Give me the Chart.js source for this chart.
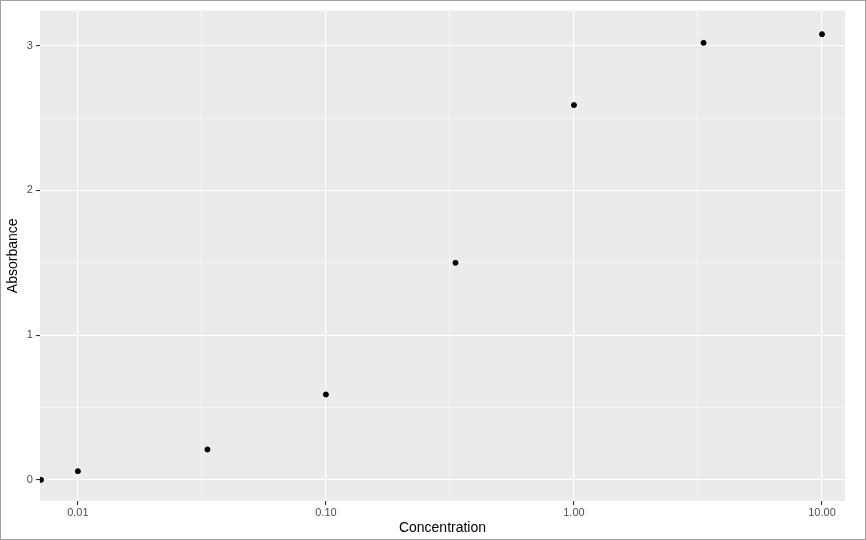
<!DOCTYPE html>
<html>
<head>
<meta charset="utf-8">
<script src="https://cdn.jsdelivr.net/npm/chart.js@4"></script>
<style>
  body { margin: 0; background: #fff; }
  #wrap { width: 864px; height: 538px; border: 1px solid #a0a0a0; }
</style>
</head>
<body>
<div id="wrap"><canvas id="c"></canvas></div>
<script>
// concentration series and absorbance
const concentration = [0.0071, 0.01, 0.0333, 0.1, 0.333, 1.0, 3.33, 10.0]
const absorbance = [0.0, 0.06, 0.21, 0.59, 1.5, 2.59, 3.02, 3.08]

const xTicks = [0.01, 0.0316, 0.1, 0.316, 1, 3.16, 10]
const xLabels = {0.01: '0.01', 0.1: '0.10', 1: '1.00', 10: '10.00'}
const yTicks = [0, 0.5, 1, 1.5, 2, 2.5, 3]

const panelBg = {
  id: 'panelBg',
  beforeDraw(chart) {
    const a = chart.chartArea, ctx = chart.ctx
    ctx.save()
    ctx.fillStyle = '#EBEBEB'
    ctx.fillRect(a.left, a.top, a.right - a.left, a.bottom - a.top)
    ctx.restore()
  }
}

const isMajorX = v => xLabels[v] !== undefined
const isMajorY = v => Number.isInteger(v)

new Chart(document.getElementById('c'), {
  type: 'scatter',
  data: {
    datasets: [{
      data: concentration.map((c, i) => ({x: c, y: absorbance[i]})),
      backgroundColor: '#000',
      borderColor: '#000',
      pointRadius: 2.5
    }]
  },
  plugins: [panelBg],
  options: {
    responsive: true,
    maintainAspectRatio: false,
    animation: false,
    layout: {padding: {top: 2, right: 20, left: 0, bottom: 0}},
    plugins: {legend: {display: false}, tooltip: {enabled: false}},
    scales: {
      x: {
        type: 'logarithmic',
        min: 0.00703, max: 12.38,
        afterBuildTicks: s => { s.ticks = xTicks.map(v => ({value: v})) },
        ticks: {
          autoSkip: false, maxRotation: 0, color: '#4D4D4D', padding: 1,
          font: {family: 'Arial, Liberation Sans', size: 11},
          callback: v => xLabels[v] || ''
        },
        grid: {
          color: '#fff',
          lineWidth: c => isMajorX(c.tick && c.tick.value) ? 1.1 : 0.5,
          tickLength: 4,
          tickColor: c => isMajorX(c.tick && c.tick.value) ? '#333' : 'rgba(0,0,0,0)'
        },
        border: {display: false},
        title: {display: true, text: 'Concentration', color: '#000',
          font: {family: 'Arial, Liberation Sans', size: 14}, padding: {top: 0, bottom: 2}}
      },
      y: {
        min: -0.146, max: 3.243,
        afterBuildTicks: s => { s.ticks = yTicks.map(v => ({value: v})) },
        ticks: {
          autoSkip: false, color: '#4D4D4D',
          font: {family: 'Arial, Liberation Sans', size: 11},
          callback: v => isMajorY(v) ? String(v) : ''
        },
        grid: {
          color: '#fff',
          lineWidth: c => isMajorY(c.tick && c.tick.value) ? 1.1 : 0.5,
          tickLength: 4,
          tickColor: c => isMajorY(c.tick && c.tick.value) ? '#333' : 'rgba(0,0,0,0)'
        },
        border: {display: false},
        title: {display: true, text: 'Absorbance', color: '#000',
          font: {family: 'Arial, Liberation Sans', size: 14}, padding: {bottom: 2}}
      }
    }
  }
})
</script>
</body>
</html>
